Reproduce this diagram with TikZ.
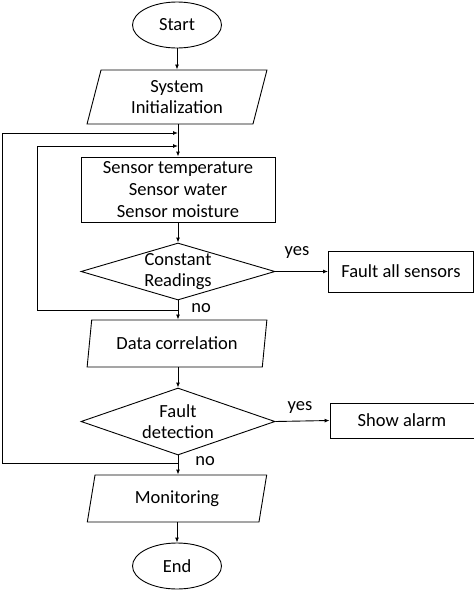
\documentclass[tikz,border=0pt]{standalone}
\usepackage{fontspec}
\setmainfont{Carlito}
\usepackage{tikz}
\usetikzlibrary{arrows.meta}
\usetikzlibrary{shapes.geometric}

\begin{document}
\begin{tikzpicture}[x=1pt,y=-1pt,line width=0.9pt,
        font=\fontsize{18.5}{21.7}\selectfont,
        terminal/.style={draw,ellipse,minimum width=89pt,minimum height=46pt,inner sep=0pt},
        inout/.style={draw,trapezium,trapezium left angle=76,trapezium right angle=104,
            trapezium stretches=true,minimum width=180pt,align=center,inner sep=0pt},
        process/.style={draw,rectangle,align=center,inner sep=0pt},
        decision/.style={draw,diamond,minimum width=194pt,inner sep=0pt,aspect=3.4},
        arr/.style={-{Latex[length=5pt,width=4pt]}}]
        \useasboundingbox (0,0) rectangle (474,592);
        \node[terminal] (start) at (177,25) {Start};
        \node[inout,minimum height=54pt] (init) at (177,97) {System\\Initialization};
        \node[process,minimum width=194pt,minimum height=65pt] (sensors) at (178,189.5)
            {Sensor temperature\\Sensor water\\Sensor moisture};
        \node[decision,minimum height=57pt,
            label={[align=center]center:Constant\\Readings}] (constant) at (178,271.5) {};
        \node[process,minimum width=145pt,minimum height=41pt] (faultall) at (401,271.5) {Fault all sensors};
        \node[inout,minimum height=47pt] (correlation) at (177,343.5) {Data correlation};
        \node[decision,minimum height=67pt,
            label={[align=center]center:Fault\\detection}] (fault) at (178,421.5) {};
        \node[process,minimum width=144pt,minimum height=35pt] (alarm) at (402,420.5) {Show alarm};
        \node[inout,minimum height=47pt] (monitor) at (177,498.5) {Monitoring};
        \node[terminal] (end) at (177,566) {End};
        \coordinate (noconst) at (178,310);
        \coordinate (nofault) at (178,463);
        \coordinate (loopin) at (178,146);
        \coordinate (loopout) at (178,133);
        \draw[arr] (start) -- (init);
        \draw[arr] (init.south -| sensors.north) -- (sensors.north);
        \draw[arr] (sensors) -- (constant);
        \draw[arr] (constant) -- (correlation.north -| constant.south);
        \draw[arr] (correlation.south -| fault.north) -- (fault);
        \draw[arr] (fault) -- (monitor.north -| fault.south);
        \draw[arr] (monitor.south -| end.north) -- (end);
        \draw[arr] (constant.east) -- (faultall.west);
        \draw[arr] (fault.east) -- (alarm.west);
        \draw[arr] (noconst) -- (37,310) -- (37,146) -- (loopin);
        \draw[arr] (nofault) -- (2,463) -- (2,133) -- (loopout);
        \node (yes1) at (297,253) {yes};
        \node (yes2) at (300,407) {yes};
        \node[anchor=west,inner sep=0pt] (no1) at (191,308) {no};
        \node[anchor=west,inner sep=0pt] (no2) at (195,461) {no};
        \end{tikzpicture}
\end{document}
